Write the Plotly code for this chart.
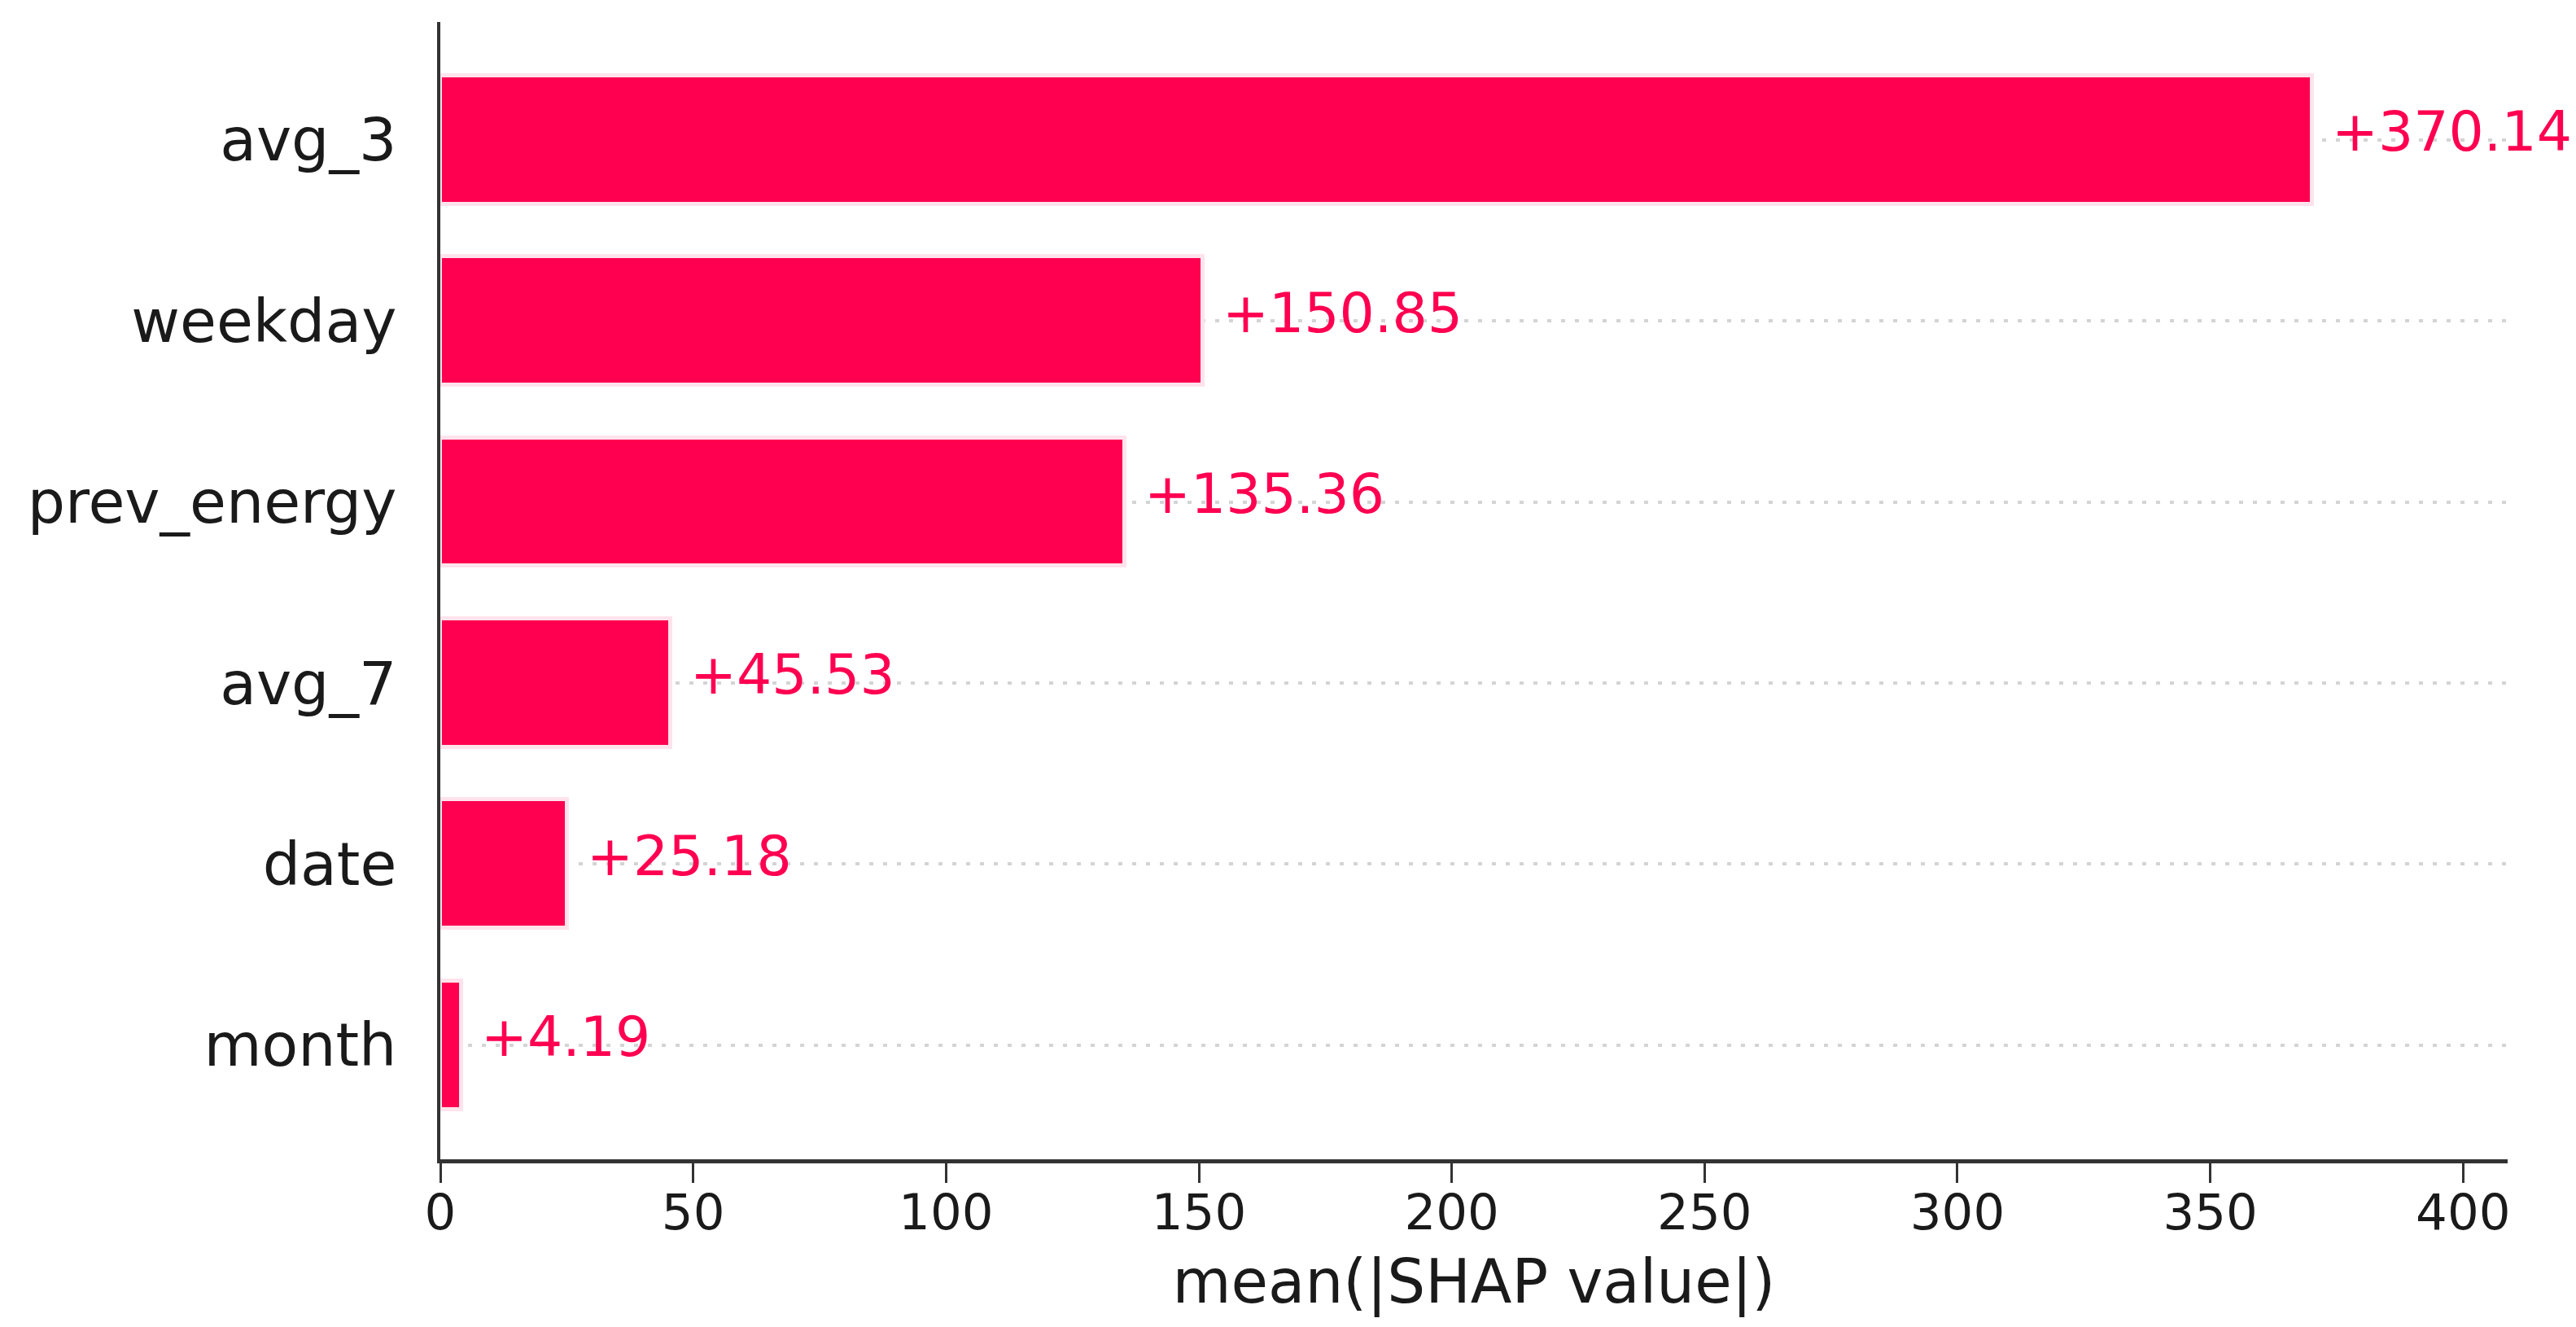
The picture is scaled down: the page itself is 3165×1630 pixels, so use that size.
import plotly.graph_objects as go

# Data (bottom to top)
features = ["month", "date", "avg_7", "prev_energy", "weekday", "avg_3"]
values = [4.19, 25.18, 45.53, 135.36, 150.85, 370.14]
x_ticks = [0, 50, 100, 150, 200, 250, 300, 350, 400]

RED = "#FF0051"
FONT = "DejaVu Sans"

fig = go.Figure()
fig.add_trace(go.Bar(
    x=values, y=features, orientation="h",
    marker=dict(color=RED, line=dict(color="#FFE3EC", width=5)),
    width=0.71,
    hoverinfo="skip",
))

for f, v in zip(features, values):
    fig.add_annotation(
        x=v, y=f, text=f"+{v:.2f}", showarrow=False,
        xanchor="left", yanchor="middle", xshift=22, yshift=10,
        font=dict(family=FONT, size=68, color=RED),
    )

fig.update_layout(
    width=3165, height=1630,
    margin=dict(l=533, r=92, t=19, b=214),
    paper_bgcolor="white", plot_bgcolor="white",
    showlegend=False,
    font=dict(family=FONT, color="#1a1a1a"),
    bargap=0,
)
fig.update_xaxes(
    range=[0, 408.8], tickvals=x_ticks,
    showgrid=False, zeroline=False,
    showline=True, linecolor="#333333", linewidth=5,
    ticks="outside", ticklen=24, tickwidth=3, tickcolor="#333333",
    ticklabelstandoff=-16,
    tickfont=dict(family=FONT, size=61, color="#1a1a1a"),
    title=dict(text="mean(|SHAP value|)", font=dict(family=FONT, size=74, color="#1a1a1a"), standoff=26),
)
fig.update_yaxes(
    categoryorder="array", categoryarray=features,
    range=[-0.63, 5.65],
    showgrid=True, gridcolor="#d4d4d4", gridwidth=4, griddash="5px,12px",
    zeroline=False,
    showline=True, linecolor="#333333", linewidth=4,
    ticks="", ticklabelstandoff=35,
    tickfont=dict(family=FONT, size=73, color="#1a1a1a"),
)

fig.write_html("out.html")
